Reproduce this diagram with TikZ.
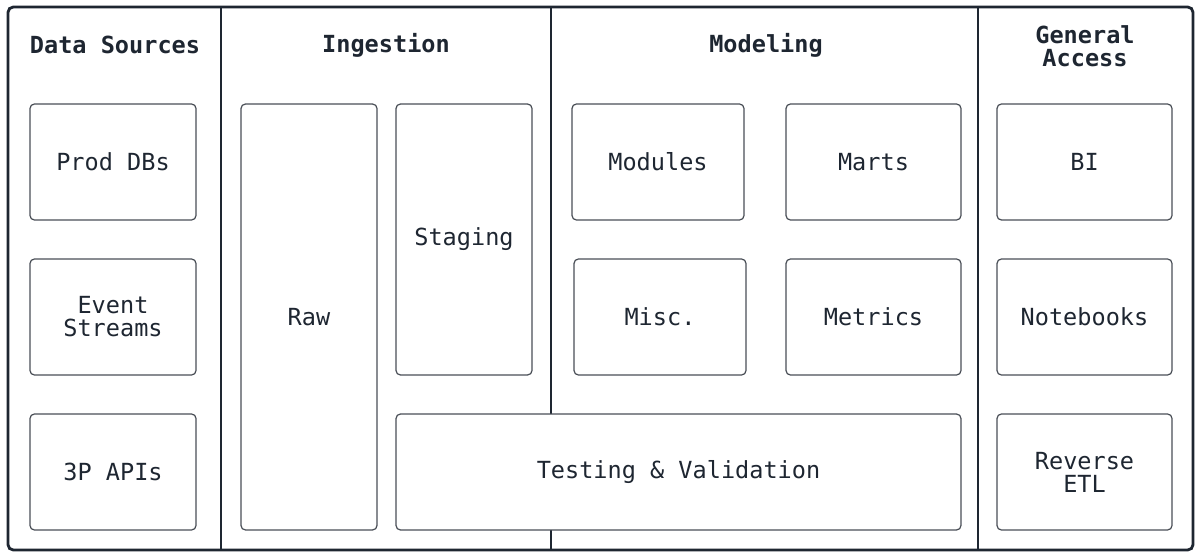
\documentclass[tikz,border=0pt]{standalone}
\usepackage{fontspec}
\setmonofont{DejaVu Sans Mono}

\definecolor{ink}{HTML}{1E2631}
\definecolor{edge}{HTML}{4A4F57}

\begin{document}
\begin{tikzpicture}[x=0.02cm, y=-0.02cm,
  frame/.style={draw=ink, line width=1.6pt, rounded corners=3pt},
  divider/.style={draw=ink, line width=0.7pt},
  box/.style={draw=edge, line width=0.7pt, rounded corners=2.5pt, fill=white,
    text=ink, align=center, inner sep=0pt,
    font=\ttfamily\fontsize{13.4}{13}\selectfont},
  head/.style={text=ink, align=center, inner sep=0pt,
    font=\ttfamily\bfseries\fontsize{13.4}{13}\selectfont},
  unit/.style={minimum height=2.32cm}]
  \useasboundingbox (0,0) rectangle (1200,560);

  % Rahmen und Spalten
  \draw[frame] (8,7) rectangle (1193,550);
  \draw[divider] (221,7) -- (221,550);
  \draw[divider] (551,7) -- (551,550);
  \draw[divider] (978,7) -- (978,550);

  % Überschriften
  \node[head] (hsrc) at (115,45)  {Data Sources};
  \node[head] (hing) at (386,45)  {Ingestion};
  \node[head] (hmod) at (766,45)  {Modeling};
  \node[head] (hacc) at (1085,46) {General\\Access};

  % Data Sources
  \node[box, unit, minimum width=3.32cm] (prod)  at (113,162) {Prod DBs};
  \node[box, unit, minimum width=3.32cm] (event) at (113,317) {Event\\Streams};
  \node[box, unit, minimum width=3.32cm] (apis)  at (113,472) {3P APIs};

  % Ingestion
  \node[box, minimum width=2.72cm, minimum height=8.52cm] (raw) at (309,317) {Raw};
  \node[box, minimum width=2.72cm, minimum height=5.42cm] (stag) at (464,239.5) {Staging};

  % Modeling
  \node[box, unit, minimum width=3.44cm] (modules) at (658,162)   {Modules};
  \node[box, unit, minimum width=3.5cm]  (marts)   at (873.5,162) {Marts};
  \node[box, unit, minimum width=3.44cm] (misc)    at (660,317)   {Misc.};
  \node[box, unit, minimum width=3.5cm]  (metrics) at (873.5,317) {Metrics};
  \node[box, unit, minimum width=11.3cm] (test)    at (678.5,472) {Testing \& Validation};

  % General Access
  \node[box, unit, minimum width=3.5cm] (bi)    at (1084.5,162) {BI};
  \node[box, unit, minimum width=3.5cm] (nb)    at (1084.5,317) {Notebooks};
  \node[box, unit, minimum width=3.5cm] (retl)  at (1084.5,472) {Reverse\\ETL};
\end{tikzpicture}
\end{document}
